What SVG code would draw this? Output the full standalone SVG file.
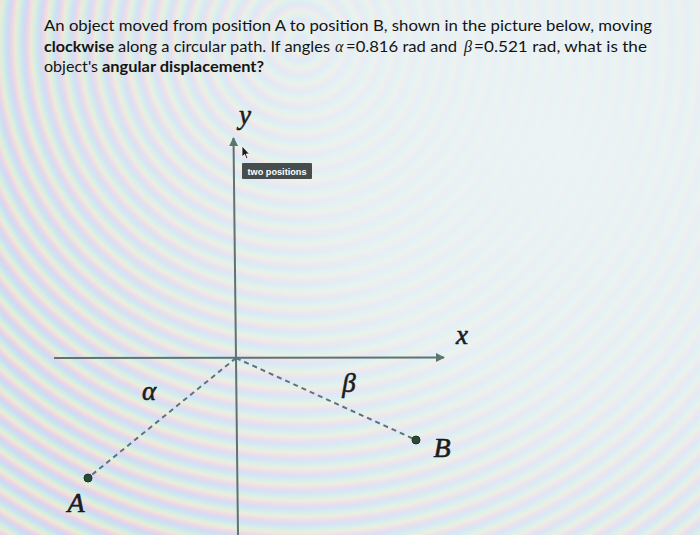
<svg xmlns="http://www.w3.org/2000/svg" width="700" height="535" viewBox="0 0 700 535">
<defs>
<radialGradient id="rings" gradientUnits="userSpaceOnUse" cx="300" cy="40" r="16" spreadMethod="repeat">
<stop offset="0" stop-color="#f2c6d6"/>
<stop offset="0.2" stop-color="#c9c6ee"/>
<stop offset="0.4" stop-color="#b6d8f2"/>
<stop offset="0.6" stop-color="#c6ecd2"/>
<stop offset="0.8" stop-color="#ece6c6"/>
<stop offset="1" stop-color="#f2c6d6"/>
</radialGradient>
<radialGradient id="fade" gradientUnits="userSpaceOnUse" cx="560" cy="150" r="580">
<stop offset="0" stop-color="#ecf4f5" stop-opacity="0.97"/>
<stop offset="0.4" stop-color="#ecf4f5" stop-opacity="0.8"/>
<stop offset="1" stop-color="#ecf4f5" stop-opacity="0.15"/>
</radialGradient>
<marker id="arr" viewBox="0 0 10 10" refX="9" refY="5" markerWidth="4.5" markerHeight="4.5" orient="auto" markerUnits="strokeWidth">
<path d="M0,0 L10,5 L0,10 Z" fill="#5d7470"/>
</marker>
<style>
.q{font-family:Lato,"Open Sans","Liberation Sans",sans-serif;font-size:16px;fill:#141414}
.b{font-weight:700}
.g{font-family:"Liberation Serif",serif;font-style:italic;font-size:16px}
.m{font-family:"Liberation Serif",serif;font-style:italic;fill:#1c1c1c;stroke:#1c1c1c;stroke-width:0.6}
.ax{stroke:#5d7470;stroke-width:2;fill:none}
.ds{stroke:#5c7284;stroke-width:2;stroke-dasharray:5 4;fill:none}
.pt{fill:#2b4a36;stroke:#1e3328;stroke-width:1}
</style>
</defs>
<rect width="700" height="535" fill="#e8f0f4"/>
<rect width="700" height="535" fill="url(#rings)" opacity="0.75"/>
<rect width="700" height="535" fill="url(#fade)"/>

<g id="question">
<text class="q" x="44" y="31" textLength="608" lengthAdjust="spacingAndGlyphs">An object moved from position A to position B, shown in the picture below, moving</text>
<text class="q b" x="44" y="51.5" textLength="70" lengthAdjust="spacingAndGlyphs">clockwise</text>
<text class="q" x="118" y="51.5" textLength="212" lengthAdjust="spacingAndGlyphs">along a circular path. If angles</text>
<text class="q g" x="335" y="51.5">α</text>
<text class="q" x="346" y="51.5" textLength="111" lengthAdjust="spacingAndGlyphs">=0.816 rad and</text>
<text class="q g" x="464" y="51.5">β</text>
<text class="q" x="474" y="51.5" textLength="173" lengthAdjust="spacingAndGlyphs">=0.521 rad, what is the</text>
<text class="q" x="44" y="72" textLength="54" lengthAdjust="spacingAndGlyphs">object's</text>
<text class="q b" x="102" y="72" textLength="162" lengthAdjust="spacingAndGlyphs">angular displacement?</text>
</g>

<g id="connectors">
<line class="ax" x1="238" y1="535" x2="233.5" y2="138" marker-end="url(#arr)"/>
<line class="ax" x1="54" y1="358" x2="444" y2="357.5" marker-end="url(#arr)"/>
<line class="ds" x1="236" y1="358" x2="88" y2="478"/>
<line class="ds" x1="236" y1="358" x2="416" y2="440"/>
</g>

<g id="label-y"><text class="m" x="245" y="124" font-size="27" text-anchor="middle">y</text></g>
<g id="label-x"><text class="m" x="462" y="344" font-size="27" text-anchor="middle">x</text></g>
<g id="label-alpha"><text class="m" x="149" y="400" font-size="27" text-anchor="middle">α</text></g>
<g id="label-beta"><text class="m" x="349" y="392" font-size="27" text-anchor="middle">β</text></g>

<g id="point-A">
<circle class="pt" cx="88" cy="478" r="4"/>
<text class="m" x="76" y="512" font-size="28" text-anchor="middle">A</text>
</g>
<g id="point-B">
<circle class="pt" cx="416" cy="440" r="4"/>
<text class="m" x="442" y="457" font-size="28" text-anchor="middle">B</text>
</g>

<g id="tooltip">
<rect x="242" y="163" width="70" height="16" rx="1" fill="#474d4d"/>
<text x="277" y="174.5" font-family="Liberation Sans,Arial,sans-serif" font-size="9" font-weight="700" fill="#ffffff" text-anchor="middle" textLength="59" lengthAdjust="spacingAndGlyphs">two positions</text>
</g>
<g id="cursor">
<path d="M242,146 L242,157 L244.5,154.5 L246.5,159 L248,158.3 L246.2,154 L249.5,154 Z" fill="#1a1a1a" stroke="#ffffff" stroke-width="0.8"/>
</g>
</svg>
